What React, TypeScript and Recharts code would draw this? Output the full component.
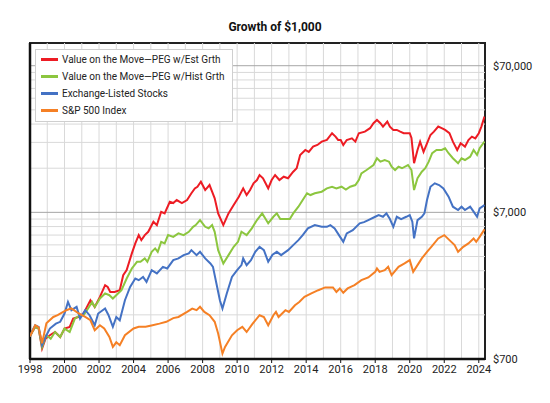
import React from 'react';
import { LineChart, Line, XAxis, YAxis, ReferenceArea, ReferenceLine, Legend } from 'recharts';

type Pt = [number, number];

const yearTicks = [1998, 2000, 2002, 2004, 2006, 2008, 2010, 2012, 2014, 2016, 2018, 2020, 2022, 2024];
const gridYears = [1999, 2000, 2001, 2002, 2003, 2004, 2005, 2006, 2007, 2008, 2009, 2010, 2011, 2012, 2013, 2014, 2015, 2016, 2017, 2018, 2019, 2020, 2021, 2022, 2023, 2024];
const valueTicks = [700, 7000, 70000];
const minorGrid = [1400, 2100, 2800, 3500, 4200, 4900, 5600, 6300, 14000, 21000, 28000, 35000, 42000, 49000, 56000, 63000];
const majorGrid = [7000, 70000];

// Value on the Move — PEG with estimated growth
const vomEst: Pt[] = [
  [1998.0, 1000], [1998.15, 1080], [1998.3, 1160], [1998.5, 1129], [1998.7, 825], [1998.9, 963],
  [1999.15, 1016], [1999.45, 1070], [1999.75, 989], [2000.0, 1129], [2000.3, 1160], [2000.5, 1321],
  [2000.8, 1354], [2001.1, 1429], [2001.3, 1586], [2001.5, 1762], [2001.75, 1586], [2002.05, 1857],
  [2002.35, 2231], [2002.5, 2170], [2002.65, 2008], [2002.9, 2008], [2003.2, 2062], [2003.4, 2611],
  [2003.6, 2824], [2003.9, 3673], [2004.1, 4298], [2004.3, 4897], [2004.45, 4527], [2004.65, 4897],
  [2004.85, 5160], [2005.15, 6041], [2005.35, 5731], [2005.6, 7065], [2005.8, 6889], [2006.1, 8262],
  [2006.3, 8100], [2006.5, 8491], [2006.8, 8100], [2007.1, 8491], [2007.35, 9445], [2007.55, 10200],
  [2007.7, 10470], [2007.9, 11330], [2008.15, 9937], [2008.4, 10750], [2008.55, 9680], [2008.7, 8725],
  [2008.9, 6889], [2009.2, 5731], [2009.5, 6889], [2009.8, 7849], [2010.1, 8950], [2010.35, 10200],
  [2010.55, 9186], [2010.75, 9937], [2010.95, 11050], [2011.15, 11630], [2011.3, 12580], [2011.5, 11960],
  [2011.7, 10750], [2011.8, 10200], [2012.0, 11630], [2012.2, 12580], [2012.45, 11630], [2012.7, 12250],
  [2012.95, 11960], [2013.25, 13250], [2013.45, 13990], [2013.65, 17230], [2013.95, 18640], [2014.15, 18100],
  [2014.4, 19640], [2014.65, 20160], [2014.9, 21250], [2015.2, 21810], [2015.5, 24250], [2015.7, 23000],
  [2015.85, 21810], [2016.0, 21810], [2016.15, 20160], [2016.35, 21810], [2016.65, 22380], [2016.85, 21250],
  [2017.05, 24250], [2017.4, 24860], [2017.7, 26240], [2017.9, 28380], [2018.1, 29880], [2018.3, 28380],
  [2018.45, 26910], [2018.7, 29100], [2018.85, 26910], [2019.05, 25530], [2019.25, 25530], [2019.45, 24860],
  [2019.65, 24250], [2020.0, 24250], [2020.1, 22500], [2020.25, 15130], [2020.45, 18640], [2020.6, 21250],
  [2020.8, 18100], [2021.0, 20710], [2021.2, 23600], [2021.4, 24860], [2021.65, 26910], [2021.85, 26240],
  [2022.05, 25530], [2022.3, 24250], [2022.5, 21250], [2022.75, 18640], [2022.95, 20710], [2023.2, 19640],
  [2023.4, 21810], [2023.6, 23000], [2023.8, 22380], [2024.0, 24250], [2024.15, 26910], [2024.33, 31490],
];

// Value on the Move — PEG with historical growth
const vomHist: Pt[] = [
  [1998.0, 1000], [1998.15, 1080], [1998.3, 1160], [1998.5, 1129], [1998.7, 846], [1998.95, 1016],
  [1999.2, 963], [1999.45, 1070], [1999.75, 989], [2000.0, 1129], [2000.3, 1070], [2000.6, 1321],
  [2000.9, 1392], [2001.1, 1392], [2001.3, 1506], [2001.6, 1714], [2001.75, 1586], [2002.05, 1810],
  [2002.35, 1960], [2002.6, 1906], [2002.8, 1810], [2003.1, 1960], [2003.3, 2062], [2003.6, 2478],
  [2003.9, 2901], [2004.2, 3220], [2004.4, 3220], [2004.65, 3396], [2004.8, 3220], [2005.05, 3766],
  [2005.25, 3975], [2005.4, 3766], [2005.6, 4408], [2005.8, 4298], [2006.0, 4897], [2006.3, 4767],
  [2006.6, 5033], [2006.9, 4897], [2007.2, 5160], [2007.45, 5580], [2007.6, 5731], [2007.85, 6200],
  [2008.15, 5580], [2008.35, 5445], [2008.55, 5731], [2008.7, 5160], [2008.9, 3868], [2009.2, 3138],
  [2009.5, 3576], [2009.8, 4075], [2010.05, 4408], [2010.25, 5160], [2010.55, 4897], [2010.85, 5445],
  [2011.15, 6200], [2011.45, 6889], [2011.65, 6300], [2011.8, 5889], [2012.1, 6531], [2012.3, 6889],
  [2012.5, 6300], [2012.8, 6300], [2013.05, 6300], [2013.25, 6889], [2013.55, 7650], [2013.8, 8491],
  [2014.05, 9445], [2014.25, 9186], [2014.5, 9445], [2014.9, 9680], [2015.2, 10200], [2015.5, 10470],
  [2015.75, 10200], [2016.05, 10470], [2016.3, 10000], [2016.55, 10470], [2016.85, 10750], [2017.05, 11630],
  [2017.2, 12920], [2017.5, 13610], [2017.9, 14720], [2018.1, 16370], [2018.3, 15510], [2018.55, 15930],
  [2018.8, 15510], [2018.95, 14340], [2019.15, 13610], [2019.35, 14340], [2019.55, 13990], [2019.9, 14720],
  [2020.1, 13610], [2020.25, 9937], [2020.45, 11950], [2020.7, 13250], [2020.9, 13990], [2021.1, 15510],
  [2021.3, 17710], [2021.55, 18640], [2021.85, 18640], [2022.05, 19150], [2022.25, 17710], [2022.5, 16370],
  [2022.8, 15130], [2023.0, 16370], [2023.2, 15930], [2023.5, 16780], [2023.7, 18640], [2023.9, 17230],
  [2024.05, 19150], [2024.33, 21250],
];

// Exchange-listed stocks
const exchange: Pt[] = [
  [1998.0, 1000], [1998.15, 1100], [1998.3, 1189], [1998.5, 1160], [1998.7, 870], [1998.9, 989],
  [1999.15, 1129], [1999.5, 1220], [1999.75, 1255], [2000.0, 1429], [2000.2, 1714], [2000.4, 1506],
  [2000.7, 1586], [2000.9, 1321], [2001.2, 1506], [2001.45, 1392], [2001.75, 1189], [2001.95, 1429],
  [2002.35, 1547], [2002.55, 1392], [2002.8, 1160], [2003.0, 1354], [2003.2, 1286], [2003.5, 1762],
  [2003.8, 2170], [2004.1, 2478], [2004.3, 2413], [2004.55, 2540], [2004.75, 2350], [2005.05, 2824],
  [2005.35, 2682], [2005.7, 2975], [2005.95, 2901], [2006.3, 3306], [2006.6, 3396], [2006.9, 3576],
  [2007.2, 3673], [2007.35, 3868], [2007.65, 3576], [2007.85, 3766], [2008.15, 3396], [2008.45, 3138],
  [2008.6, 2975], [2008.8, 2290], [2009.0, 1762], [2009.15, 1547], [2009.4, 1960], [2009.7, 2540],
  [2010.0, 2824], [2010.25, 3056], [2010.35, 3396], [2010.55, 3056], [2010.8, 3300], [2011.05, 3766],
  [2011.3, 4075], [2011.55, 3868], [2011.8, 3220], [2012.05, 3600], [2012.3, 3766], [2012.55, 3576],
  [2012.95, 3868], [2013.25, 4185], [2013.55, 4527], [2013.8, 4897], [2014.1, 5445], [2014.5, 5731],
  [2014.9, 5580], [2015.2, 5580], [2015.4, 5731], [2015.65, 5445], [2015.9, 4897], [2016.15, 4408],
  [2016.35, 5033], [2016.7, 5298], [2017.1, 5889], [2017.35, 6000], [2017.6, 6200], [2018.0, 6531],
  [2018.2, 6707], [2018.45, 6531], [2018.65, 6889], [2018.85, 6300], [2019.05, 5580], [2019.25, 6531],
  [2019.5, 6300], [2019.8, 6531], [2020.0, 6707], [2020.15, 6041], [2020.25, 4648], [2020.45, 6200],
  [2020.7, 6531], [2020.85, 6889], [2021.0, 8491], [2021.2, 10470], [2021.45, 11050], [2021.7, 10750],
  [2021.95, 10200], [2022.25, 8950], [2022.5, 7650], [2022.8, 7256], [2023.0, 7650], [2023.2, 7256],
  [2023.5, 7650], [2023.7, 7080], [2023.9, 6531], [2024.05, 7450], [2024.33, 7849],
];

// S&P 500 index
const sp500: Pt[] = [
  [1998.0, 1000], [1998.3, 1189], [1998.5, 1150], [1998.7, 896], [1998.95, 1228], [1999.35, 1354],
  [1999.6, 1392], [1999.8, 1436], [2000.1, 1506], [2000.4, 1550], [2000.8, 1436], [2001.2, 1354],
  [2001.5, 1286], [2001.75, 1099], [2002.05, 1189], [2002.3, 1130], [2002.6, 989], [2002.8, 846],
  [2003.0, 910], [2003.2, 870], [2003.5, 1016], [2004.0, 1130], [2004.3, 1160], [2004.7, 1160],
  [2005.1, 1189], [2005.5, 1220], [2005.9, 1255], [2006.3, 1330], [2006.6, 1354], [2007.1, 1466],
  [2007.4, 1545], [2007.65, 1506], [2007.85, 1590], [2008.1, 1466], [2008.4, 1392], [2008.7, 1255],
  [2008.9, 1045], [2009.15, 762], [2009.3, 846], [2009.7, 1016], [2010.0, 1099], [2010.3, 1160],
  [2010.55, 1070], [2010.9, 1220], [2011.3, 1392], [2011.55, 1354], [2011.8, 1189], [2012.1, 1392],
  [2012.25, 1466], [2012.4, 1354], [2012.8, 1506], [2013.0, 1466], [2013.35, 1629], [2013.6, 1714],
  [2013.9, 1857], [2014.3, 1960], [2014.7, 2062], [2015.1, 2153], [2015.55, 2153], [2015.75, 2008],
  [2015.95, 2120], [2016.15, 1980], [2016.4, 2120], [2016.8, 2231], [2017.2, 2413], [2017.6, 2518],
  [2018.0, 2750], [2018.1, 2901], [2018.25, 2750], [2018.55, 2824], [2018.75, 2975], [2018.95, 2611],
  [2019.35, 2975], [2019.7, 3138], [2020.0, 3306], [2020.2, 2750], [2020.45, 3056], [2020.7, 3396],
  [2021.0, 3766], [2021.25, 4075], [2021.65, 4648], [2022.0, 4897], [2022.3, 4527], [2022.6, 4185],
  [2022.8, 3766], [2023.1, 4075], [2023.4, 4298], [2023.7, 4648], [2023.85, 4410], [2024.05, 4767],
  [2024.33, 5357],
];

const series = [
  { name: 'Value on the Move\u2014PEG w/Est Grth', color: '#ed1c24', points: vomEst },
  { name: 'Value on the Move\u2014PEG w/Hist Grth', color: '#8cc63f', points: vomHist },
  { name: 'Exchange-Listed Stocks', color: '#4472c4', points: exchange },
  { name: 'S&P 500 Index', color: '#f58025', points: sp500 },
];

const X_MIN = 1998;
const X_MAX = 2024.36;
const font = 'Roboto, "Noto Sans", sans-serif';

const toRows = (pts: Pt[]) => pts.map(([year, value]) => ({ year, value }));

const renderLegend = () => (
  <div
    style={{
      background: '#fff',
      border: '1px solid #cfcfcf',
      padding: '1px 8px 2px 5px',
      fontFamily: font,
      fontSize: 10,
      color: '#222',
    }}
  >
    {series.map((s) => (
      <div key={s.name} style={{ display: 'flex', alignItems: 'center', height: 17 }}>
        <span style={{ display: 'inline-block', width: 17, height: 2.5, background: s.color, marginRight: 4 }} />
        <span>{s.name}</span>
      </div>
    ))}
  </div>
);

export default function App() {
  return (
    <div style={{ position: 'absolute', left: 0, top: 0, width: 550, height: 403, background: '#fff' }}>
      <div
        style={{
          position: 'absolute',
          top: 20,
          left: 0,
          width: 550,
          textAlign: 'center',
          fontFamily: font,
          fontWeight: 700,
          fontSize: 12,
          color: '#111',
        }}
      >
        Growth of $1,000
      </div>
      <LineChart width={550} height={403} margin={{ top: 43, right: 5, bottom: 20, left: 30 }}>
        <XAxis
          dataKey="year"
          type="number"
          domain={[X_MIN, X_MAX]}
          ticks={yearTicks}
          allowDataOverflow
          height={24}
          axisLine={{ stroke: '#111', strokeWidth: 2.5 }}
          tickLine={{ stroke: '#111' }}
          tickSize={4}
          tick={{ fontSize: 11, fill: '#222', fontFamily: font }}
        />
        <YAxis
          orientation="right"
          scale="log"
          domain={[700, 100000]}
          ticks={valueTicks}
          allowDataOverflow
          width={60}
          axisLine={false}
          tickLine={false}
          tick={{ fontSize: 11, fill: '#222', fontFamily: font, textAnchor: 'start' }}
          tickFormatter={(v: number) => `$${v.toLocaleString('en-US')}`}
        />
        {gridYears.map((yr) => (
          <ReferenceLine key={`gx${yr}`} x={yr} stroke="#d9d9d9" strokeWidth={1} />
        ))}
        {minorGrid.map((v) => (
          <ReferenceLine key={`gy${v}`} y={v} stroke="#d9d9d9" strokeWidth={1} />
        ))}
        {majorGrid.map((v) => (
          <ReferenceLine key={`gm${v}`} y={v} stroke="#a6a6a6" strokeWidth={1} />
        ))}
        <ReferenceArea x1={X_MIN} x2={X_MAX} y1={700} y2={100000} fill="none" stroke="#222" strokeWidth={2} />
        <ReferenceLine x={X_MIN} stroke="#111" strokeWidth={2.5} />
        {series.map((s) => (
          <Line
            key={s.name}
            data={toRows(s.points)}
            dataKey="value"
            name={s.name}
            type="linear"
            stroke={s.color}
            strokeWidth={2}
            dot={false}
            isAnimationActive={false}
          />
        ))}
        <Legend
          layout="vertical"
          align="center"
          verticalAlign="middle"
          wrapperStyle={{ left: 35, top: 49, width: 'auto' }}
          content={renderLegend}
        />
      </LineChart>
    </div>
  );
}
